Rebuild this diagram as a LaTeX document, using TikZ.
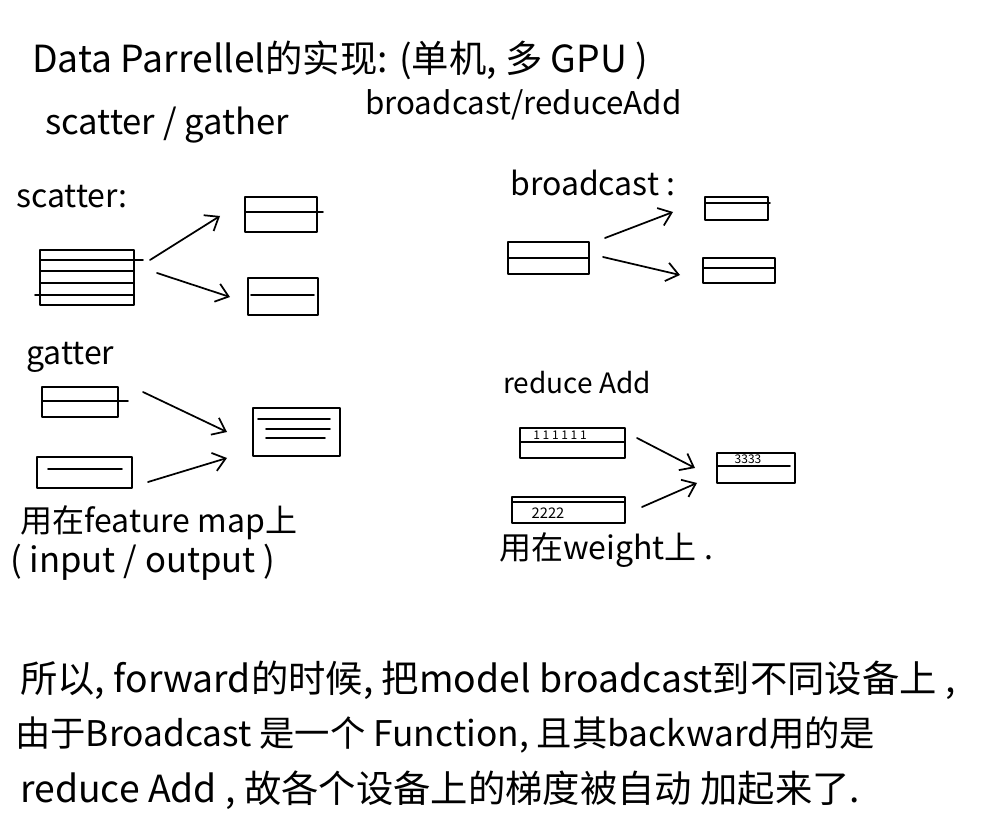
\documentclass[tikz,border=0pt]{standalone}
\usepackage{fontspec}
\setmainfont{Noto Sans CJK SC}
\usetikzlibrary{arrows.meta,fit}
\begin{document}
\begin{tikzpicture}[x=0.75pt,y=-0.75pt,
  ink/.style={line width=1.3pt,black,line cap=round,line join=round},
  box/.style={ink,draw,inner sep=0pt,rectangle},
  arr/.style={ink,-{Straight Barb[length=9pt,width=14pt,line width=1.3pt]}},
  txt/.style={anchor=west,inner sep=0pt},
  t28/.style={txt,font=\fontsize{28}{32}\selectfont},
  t26/.style={txt,font=\fontsize{26}{30}\selectfont},
  t24/.style={txt,font=\fontsize{24}{28}\selectfont},
  t21/.style={txt,font=\fontsize{21}{25}\selectfont},
  tiny/.style={inner sep=0pt,font=\fontsize{9}{10}\selectfont}]
\fill[white] (0,0) rectangle (986,834);
\useasboundingbox (0,0) rectangle (986,834);

% headings
\node[t28] (title) at (32,60) {Data Parrellel的实现: (单机, 多 GPU )};
\node[t26] (sg) at (45,125) {scatter / gather};
\node[txt,font=\fontsize{23.5}{28}\selectfont] (br) at (365,105) {broadcast/reduceAdd};

% scatter
\node[t24] (lsc) at (16,197) {scatter:};
\node[box,fit={(40,250)(134,305)}] (sc) {};
\draw[ink] (40,260) -- (143,260);
\draw[ink] (40,271) -- (134,271);
\draw[ink] (40,283) -- (134,283);
\draw[ink] (35,295) -- (134,295);
\node[box,fit={(245,197)(317,232)}] (sc1) {};
\draw[ink] (245,212) -- (323,212);
\node[box,fit={(248,278)(318,315)}] (sc2) {};
\draw[ink] (251,295) -- (314,295);
\coordinate (sca) at (150,260); \coordinate (scb) at (220,216);
\coordinate (scc) at (157,273); \coordinate (scd) at (230,297);
\draw[arr] (sca) -- (scb);
\draw[arr] (scc) -- (scd);

% broadcast
\node[t24] (lbr) at (510,183) {broadcast :};
\node[box,fit={(508,242)(589,274)}] (bs) {};
\draw[ink] (508,258) -- (589,258);
\node[box,fit={(705,197)(768,220)}] (bt) {};
\draw[ink] (705,203) -- (770,203);
\node[box,fit={(703,258)(775,283)}] (bb) {};
\draw[ink] (703,268) -- (775,268);
\coordinate (bra) at (605,238); \coordinate (brb) at (673,212);
\coordinate (brc) at (603,257); \coordinate (brd) at (680,275);
\draw[arr] (bra) -- (brb);
\draw[arr] (brc) -- (brd);

% gather
\node[t24] (lga) at (26,357) {gatter};
\node[box,fit={(42,387)(118,417)}] (g1) {};
\draw[ink] (42,401) -- (128,401);
\node[box,fit={(37,457)(132,488)}] (g2) {};
\draw[ink] (48,469) -- (122,469);
\node[box,fit={(253,408)(340,456)}] (gr) {};
\draw[ink] (258,419) -- (330,419);
\draw[ink] (266,429) -- (330,429);
\draw[ink] (266,438) -- (325,438);
\coordinate (gaa) at (143,392); \coordinate (gab) at (227,432);
\coordinate (gac) at (148,482); \coordinate (gad) at (227,458);
\draw[arr] (gaa) -- (gab);
\draw[arr] (gac) -- (gad);
\node[t24] (fm) at (20,523) {用在feature map上};
\node[t26] (io) at (10,562) {( input / output )};

% reduceAdd
\node[t21] (lra) at (503,383) {reduce Add};
\node[box,fit={(520,428)(625,458)}] (r1) {};
\draw[ink] (520,442) -- (625,442);
\node[tiny] (r1t) at (560,435) {1 1 1 1 1 1};
\node[box,fit={(512,497)(625,523)}] (r2) {};
\draw[ink] (512,502) -- (625,502);
\node[tiny,font=\fontsize{11}{12}\selectfont] (r2t) at (548,513) {2222};
\node[box,fit={(717,453)(795,483)}] (rr) {};
\draw[ink] (717,466) -- (790,466);
\node[tiny] (rrt) at (748,459) {3333};
\coordinate (raa) at (637,438); \coordinate (rab) at (695,468);
\coordinate (rac) at (642,507); \coordinate (rad) at (697,483);
\draw[arr] (raa) -- (rab);
\draw[arr] (rac) -- (rad);
\node[t24] (wt) at (499,550) {用在weight上 .};

% bottom text
\node[t28] (l1) at (20,680) {所以, forward的时候, 把model broadcast到不同设备上 ,};
\node[txt,font=\fontsize{26.5}{30}\selectfont] (l2) at (15,735) {由于Broadcast 是一个 Function, 且其backward用的是};
\node[t28] (l3) at (20,790) {reduce Add , 故各个设备上的梯度被自动 加起来了.};
\end{tikzpicture}
\end{document}
